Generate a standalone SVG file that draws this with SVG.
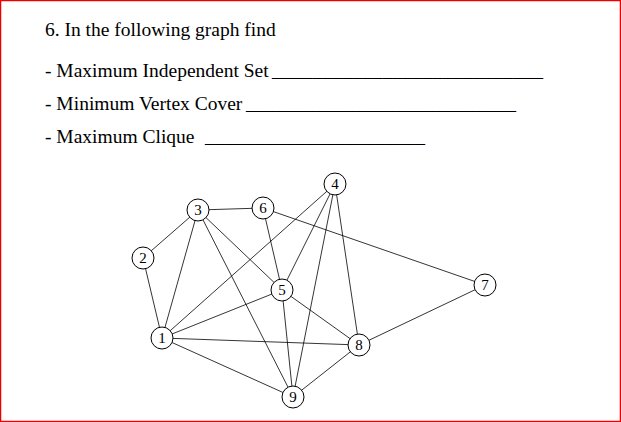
<svg xmlns="http://www.w3.org/2000/svg" width="621" height="422" viewBox="0 0 621 422">
<style>
text{font-family:"Liberation Serif",serif;font-size:19.5px;fill:#000}
.n circle{fill:#fff;stroke:#000;stroke-width:1}
.n text{font-size:15px;text-anchor:middle}
#edges line{stroke:#000;stroke-width:0.8}
</style>
<rect x="0.5" y="0.5" width="620" height="421" fill="#fff" stroke="#e00" stroke-width="1.5"/>
<text x="45" y="36">6. In the following graph find</text>
<text x="45" y="77">- Maximum Independent Set</text>
<text x="272" y="77" textLength="271" lengthAdjust="spacingAndGlyphs">___________________________</text>
<text x="45" y="110">- Minimum Vertex Cover</text>
<text x="246" y="110" textLength="270" lengthAdjust="spacingAndGlyphs">___________________________</text>
<text x="45" y="143">- Maximum Clique</text>
<text x="205" y="143" textLength="220" lengthAdjust="spacingAndGlyphs">______________________</text>
<g id="edges">
<line x1="143" y1="258" x2="198" y2="210"/>
<line x1="143" y1="258" x2="162" y2="338"/>
<line x1="198" y1="210" x2="162" y2="338"/>
<line x1="198" y1="210" x2="263" y2="208"/>
<line x1="198" y1="210" x2="293" y2="397"/>
<line x1="198" y1="210" x2="282" y2="290"/>
<line x1="282" y1="290" x2="359" y2="345"/>
<line x1="282" y1="290" x2="293" y2="397"/>
<line x1="263" y1="208" x2="282" y2="290"/>
<line x1="263" y1="208" x2="485" y2="285"/>
<line x1="335" y1="184" x2="162" y2="338"/>
<line x1="335" y1="184" x2="282" y2="290"/>
<line x1="335" y1="184" x2="293" y2="397"/>
<line x1="335" y1="184" x2="359" y2="345"/>
<line x1="162" y1="338" x2="282" y2="290"/>
<line x1="162" y1="338" x2="359" y2="345"/>
<line x1="162" y1="338" x2="293" y2="397"/>
<line x1="359" y1="345" x2="293" y2="397"/>
<line x1="359" y1="345" x2="485" y2="285"/>
</g>
<g id="n1" class="n"><circle cx="162" cy="338" r="11"/><text x="162" y="343">1</text></g>
<g id="n2" class="n"><circle cx="143" cy="258" r="11"/><text x="143" y="263">2</text></g>
<g id="n3" class="n"><circle cx="198" cy="210" r="11"/><text x="198" y="215">3</text></g>
<g id="n4" class="n"><circle cx="335" cy="184" r="11"/><text x="335" y="189">4</text></g>
<g id="n5" class="n"><circle cx="282" cy="290" r="11"/><text x="282" y="295">5</text></g>
<g id="n6" class="n"><circle cx="263" cy="208" r="11"/><text x="263" y="213">6</text></g>
<g id="n7" class="n"><circle cx="485" cy="285" r="11"/><text x="485" y="290">7</text></g>
<g id="n8" class="n"><circle cx="359" cy="345" r="11"/><text x="359" y="350">8</text></g>
<g id="n9" class="n"><circle cx="293" cy="397" r="11"/><text x="293" y="402">9</text></g>
</svg>
